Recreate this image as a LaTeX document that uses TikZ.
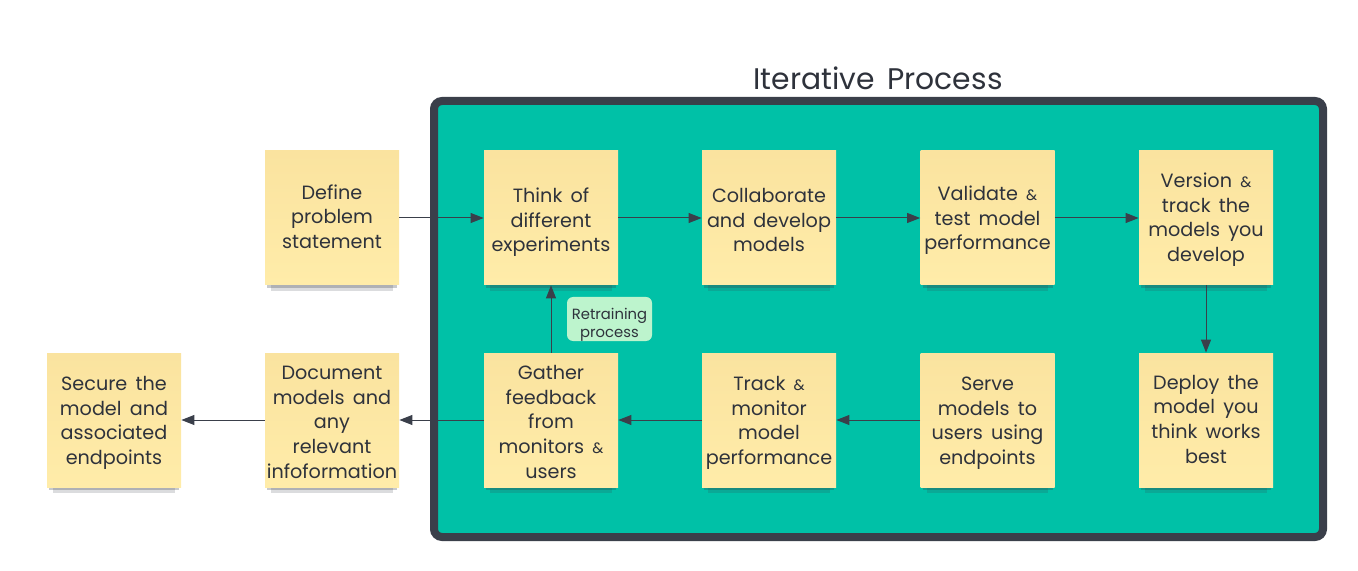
\documentclass[tikz,border=0pt]{standalone}
\usepackage{fontspec}
\setmainfont[WordSpace=1.6]{Poppins}
\usetikzlibrary{arrows.meta,shadows}
\definecolor{framedark}{HTML}{3A3F4A}
\definecolor{teal}{HTML}{00C1A7}
\definecolor{noteTop}{HTML}{FAE39F}
\definecolor{noteBottom}{HTML}{FFECA9}
\definecolor{tagGreen}{HTML}{BDF4CD}
\newcommand{\smallamp}{{\fontsize{7.5}{9}\selectfont\&}}
\tikzset{
   note/.style={minimum size=67pt, inner sep=0pt, align=center, text=framedark!80!black,
      top color=noteTop, bottom color=noteBottom,
      font=\fontsize{9.6}{12.3}\selectfont,
      text height=#1, text depth=0pt,
      general shadow={shadow xshift=0pt, shadow yshift=-6.5pt, shadow scale=.91, opacity=.18, fill=framedark},
      general shadow={shadow xshift=0pt, shadow yshift=-2.5pt, shadow scale=.97, opacity=.28, fill=framedark}},
   flow/.style={draw=framedark, line width=0.5pt, -{Triangle[length=6.5pt,width=5pt]}}
}
\begin{document}
\begin{tikzpicture}[x=0.5pt,y=-0.5pt]
   \useasboundingbox (0,0) rectangle (1358,571);

   \node[draw=framedark, fill=teal, line width=4pt, rounded corners=4pt, minimum width=444.5pt, minimum height=218pt, inner sep=0pt] (frame) at (878.5,319) {};
   \node[text=framedark!80!black, font=\fontsize{14.9}{17}\selectfont] (title) at (878,78) {Iterative Process};

   \node[note=30.5pt] (define) at (332,218) {Define\\problem\\statement};
   \node[note=34pt] (think) at (551,218) {Think of\\different\\experiments};
   \node[note=34pt] (collab) at (769,218) {Collaborate\\and develop\\models};
   \node[note=32pt] (validate) at (987.5,218) {Validate \smallamp\\test model\\performance};
   \node[note=43.5pt] (version) at (1206,218) {Version \smallamp\\track the\\models you\\develop};

   \node[note=44.5pt] (secure) at (114,420) {Secure the\\model and\\associated\\endpoints};
   \node[note=58pt] (document) at (332,420) {Document\\models and\\any\\relevant\\infoformation};
   \node[note=58pt] (gather) at (551,420) {Gather\\feedback\\from\\monitors \smallamp\\users};
   \node[note=44.5pt] (track) at (769,420) {Track \smallamp\\monitor\\model\\performance};
   \node[note=44.5pt] (serve) at (987.5,420) {Serve\\models to\\users using\\endpoints};
   \node[note=43pt] (deploy) at (1206,420) {Deploy the\\model you\\think works\\best};

   \node[fill=tagGreen, rounded corners=3pt, minimum width=42.5pt, minimum height=22pt, inner sep=0pt, align=center, text=framedark!80!black, font=\fontsize{7.4}{9}\selectfont, text height=18pt, text depth=0pt] (retrain) at (609.5,319) {Retraining\\process};

   \draw[flow] (define) -- (think);
   \draw[flow] (think) -- (collab);
   \draw[flow] (collab) -- (validate);
   \draw[flow] (validate) -- (version);
   \draw[flow] (version) -- (deploy);
   \draw[flow] (serve) -- (track);
   \draw[flow] (track) -- (gather);
   \draw[flow] (gather) -- (document);
   \draw[flow] (document) -- (secure);
   \draw[flow] (gather) -- (think);
\end{tikzpicture}
\end{document}
